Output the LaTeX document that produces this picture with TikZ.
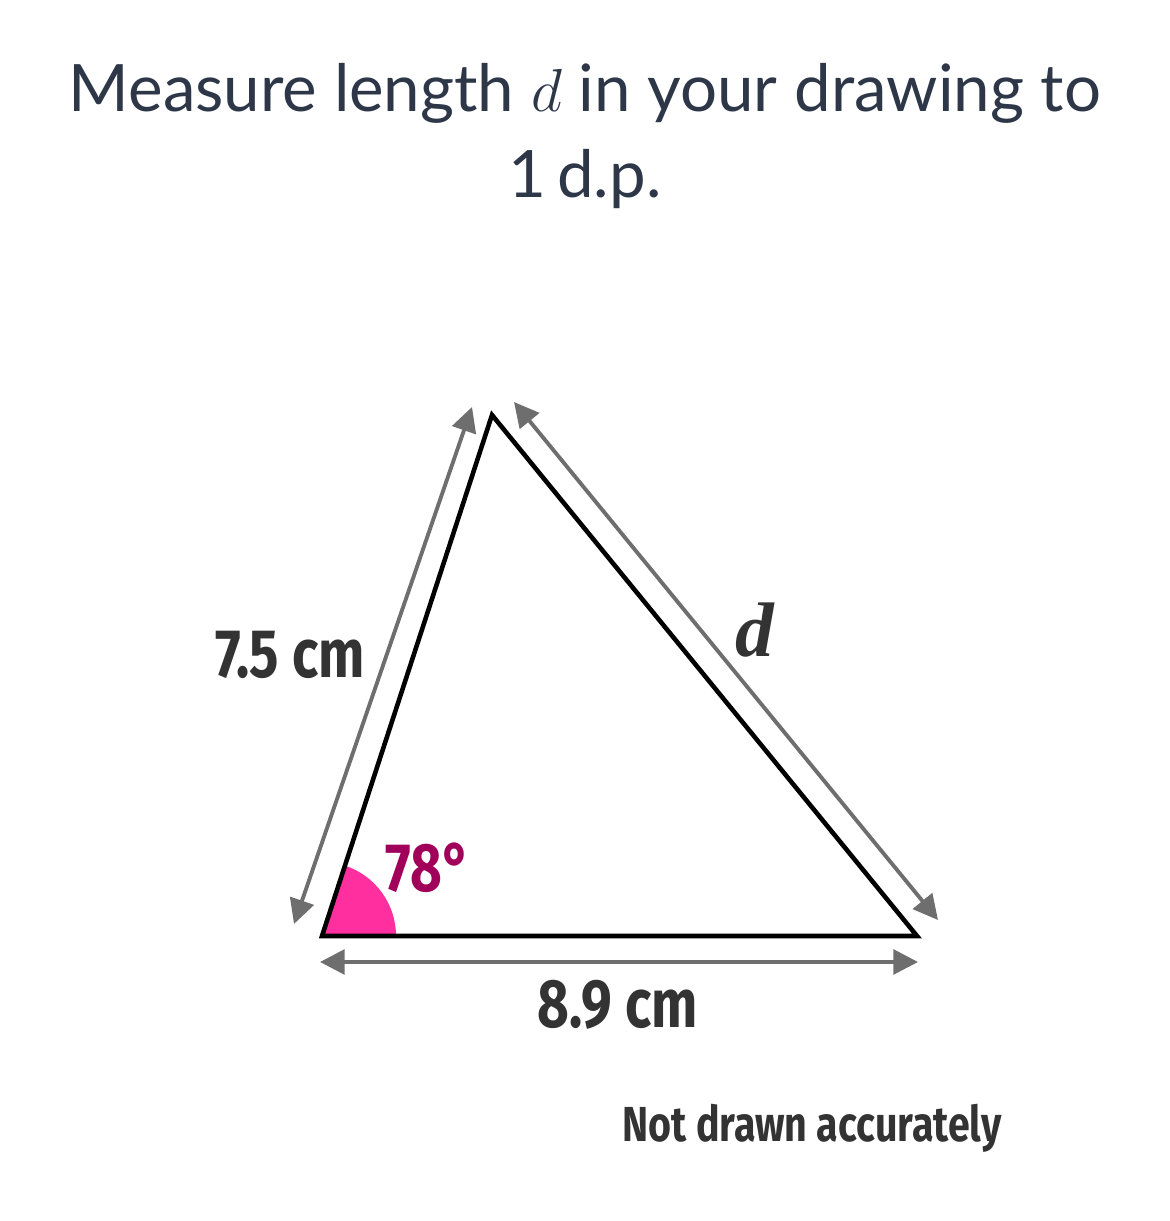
\documentclass[tikz,border=0pt]{standalone}
\usepackage{fontspec}
\setmainfont{Lato}
\newfontfamily\labelfont[FakeStretch=0.8]{Fira Sans}
\newfontfamily\letterfont{Liberation Serif}
\usetikzlibrary{arrows.meta,positioning}
\definecolor{titleink}{HTML}{2D3748}
\definecolor{anglefill}{HTML}{FF2FA0}
\definecolor{angleink}{HTML}{A0005A}
\definecolor{dimgray}{HTML}{6E6E6E}
\tikzset{%
      side/.style={draw, line width=1.3pt, line join=miter, color=black},
      dimline/.style={draw, line width=1.1pt, color=dimgray, {Triangle[length=7pt,width=7pt]}-{Triangle[length=7pt,width=7pt]}},
      sector/.style={fill=anglefill},
      measure/.style={font=\labelfont\bfseries\fontsize{19.5}{22}\selectfont, text=black!80, inner sep=1pt},
      titre/.style={font=\fontsize{18.6}{24.7}\selectfont, text=titleink, align=center},
    }

\begin{document}
\begin{tikzpicture}
      \useasboundingbox (0,0) rectangle (11.70,12.21);

      % Draw title
      \node (q) [titre] at (5.85,10.85) {Measure length $d$ in your drawing to\\1\,d.p.};

      % Draw triangle corners
      \coordinate (A) at (3.22,2.85);
      \coordinate (B) at (4.92,8.06);
      \coordinate (C) at (9.17,2.85);

      % Draw angle mark
      \path [sector] (A) -- ++(0:0.74) arc (0:72:0.74) -- cycle;

      % Draw triangle
      \path [side] (A) -- (B) -- (C) -- cycle;

      % Draw arrow ends
      \coordinate (l1) at (2.94,2.97);
      \coordinate (l2) at (4.72,8.14);
      \coordinate (r1) at (5.14,8.19);
      \coordinate (r2) at (9.38,3.01);
      \coordinate (b1) at (3.20,2.59);
      \coordinate (b2) at (9.18,2.59);

      % Draw arrows between ends
      \path [dimline] (l1) -- (l2);
      \path [dimline] (r1) -- (r2);
      \path [dimline] (b1) -- (b2);

      % Draw labels
      \node (ab) [measure] at (2.90,5.66) {7.5 cm};
      \node (bc) [font=\letterfont\bfseries\itshape\fontsize{22}{22}\selectfont, text=black!80] at (7.55,5.91) {d};
      \node (ang) [measure, text=angleink] at (4.28,3.53) {78°};
      \node (ac) [measure] at (6.18,2.16) {8.9 cm};
      \node (note) [measure, font=\labelfont\bfseries\fontsize{14}{16}\selectfont] at (8.12,0.93) {Not drawn accurately};

    \end{tikzpicture}
\end{document}
